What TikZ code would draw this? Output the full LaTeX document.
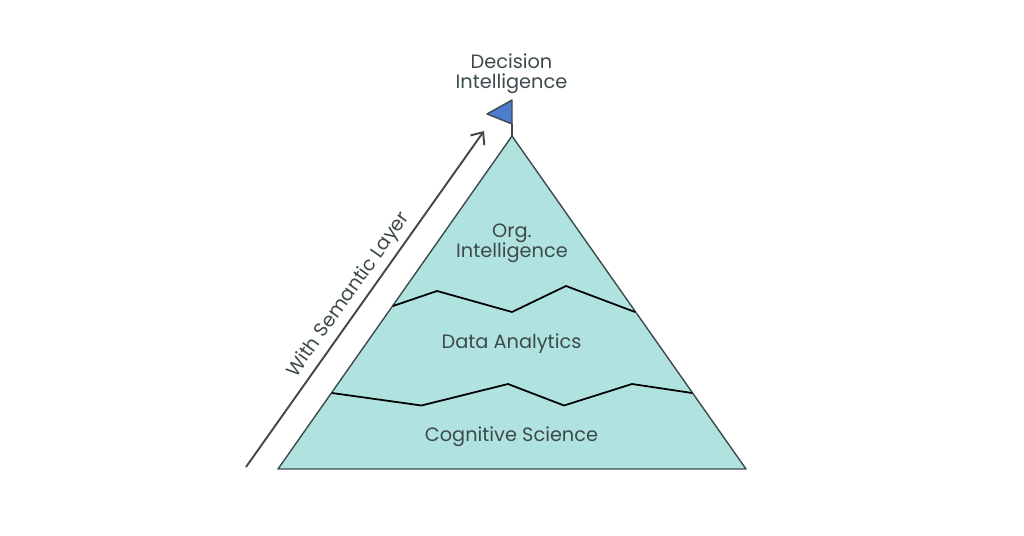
\documentclass[tikz,border=0pt]{standalone}
\usepackage{fontspec}
\setmainfont{Poppins}
\usetikzlibrary{arrows.meta}
\definecolor{mydark}{RGB}{61, 74, 76}
\definecolor{myteal}{RGB}{176, 226, 224}
\definecolor{myblue}{RGB}{78, 124, 207}
\tikzset{>={Straight Barb[length = 2mm, width = 3.4mm]}}
\tikzset{lab/.style = {text = mydark, font = \fontsize{11}{11.4}\selectfont, align = center, inner sep = 0}}
\tikzset{ridge/.style = {black, line width = 1pt, line join = round}}
\begin{document}
\begin{tikzpicture}[x = 0.02cm, y = -0.02cm]

\useasboundingbox (0, 0) rectangle (1024, 536);

\coordinate (apex) at (512, 136);
\coordinate (left) at (278, 469);
\coordinate (right) at (746, 469);
\coordinate (flagtop) at (512, 100);
\coordinate (flagtip) at (487, 114);
\coordinate (flagbot) at (512, 124);
\coordinate (arrowfoot) at (246, 467);
\coordinate (arrowtip) at (484, 131);

\draw[mydark, fill = myteal, line width = 0.8pt, line join = round] (apex) -- (left) -- (right) -- cycle;
\draw[mydark, line width = 0.8pt] (flagbot) -- (apex);
\draw[mydark, fill = myblue, line width = 0.8pt, line join = round] (flagtop) -- (flagtip) -- (flagbot) -- cycle;
\draw[->, mydark, line width = 1.1pt] (arrowfoot) -- (arrowtip);

% upper ridge
\draw[ridge] (393, 306) -- (437, 291) -- (512, 312) -- (566, 286) -- (635, 312);
% lower ridge
\draw[ridge] (332, 393) -- (421.5, 405.5) -- (508, 384) -- (564, 405.5) -- (632, 384) -- (692, 393);

\node[lab] (decision) at (511.5, 74) {Decision\\Intelligence};
\node[lab] (org) at (512, 243) {Org.\\Intelligence};
\node[lab] (data) at (511.5, 344) {Data Analytics};
\node[lab] (cog) at (511.5, 436.5) {Cognitive Science};
\node[lab, rotate = 54.7] (semantic) at (349, 295) {With Semantic Layer};

\end{tikzpicture}
\end{document}
